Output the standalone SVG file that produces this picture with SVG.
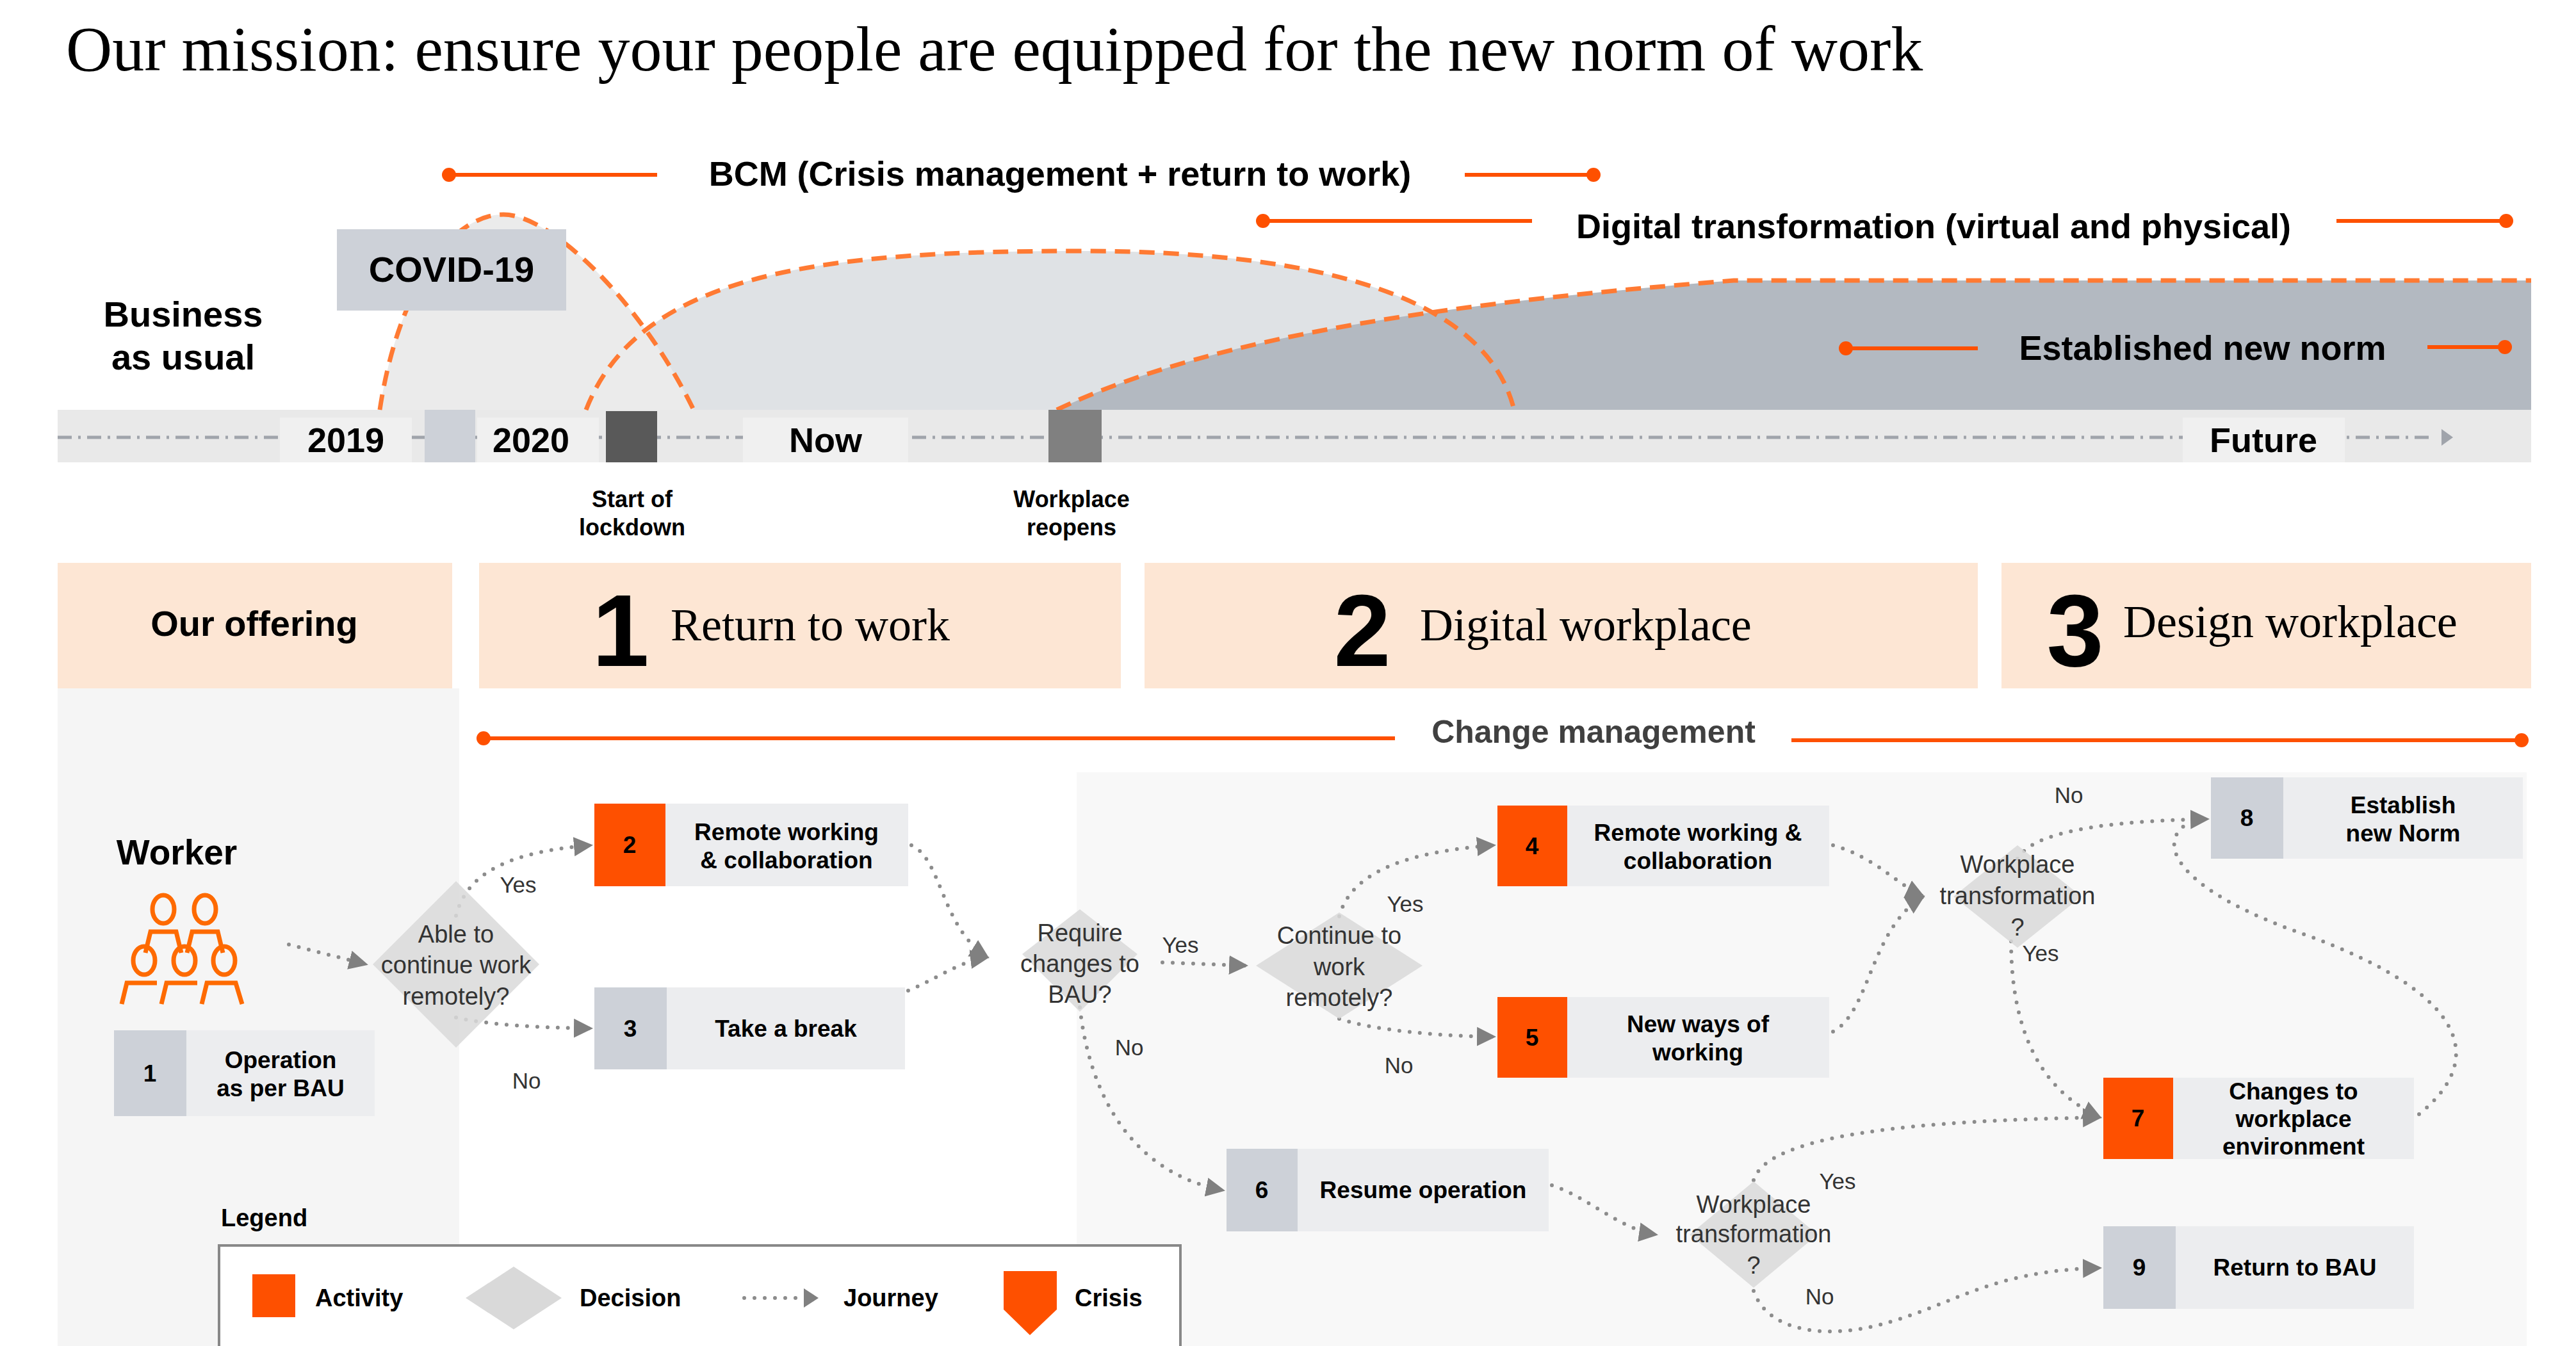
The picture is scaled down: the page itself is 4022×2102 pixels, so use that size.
<svg xmlns="http://www.w3.org/2000/svg" width="4022" height="2102" viewBox="0 0 4022 2102">
<defs>
<style>
.t{font-family:"Liberation Sans",Arial,sans-serif;fill:#000}
.b{font-weight:bold}
.s{font-family:"Liberation Serif","Times New Roman",serif;fill:#000}
.ol{stroke:#fe5000;stroke-width:6;fill:none}
.od{fill:#fe5000}
.dash{fill:none;stroke:#ff7a33;stroke-width:7;stroke-dasharray:24 14}
.nb{fill:#cdd1d8}
.na{fill:#fe5000}
.nt{fill:#ecedef}
.lab{font-family:"Liberation Sans",Arial,sans-serif;font-size:37px;font-weight:bold;fill:#000;text-anchor:middle}
.dt{font-family:"Liberation Sans",Arial,sans-serif;font-size:38px;fill:#333;text-anchor:middle}
.yn{font-family:"Liberation Sans",Arial,sans-serif;font-size:35px;fill:#333;text-anchor:middle}
.dia{fill:#d9d9d9;opacity:0.85}
.c{fill:none;stroke:#8c8c8c;stroke-width:6;stroke-dasharray:0 16;stroke-linecap:round}
</style>
<marker id="ah" viewBox="0 0 10 10" refX="9" refY="5" markerWidth="30" markerHeight="32" markerUnits="userSpaceOnUse" orient="auto">
<path d="M0,0L10,5L0,10z" fill="#808080"/>
</marker>
</defs>
<rect width="4022" height="2102" fill="#fff"/>
<text class="s" x="103" y="110" font-size="100">Our mission: ensure your people are equipped for the new norm of work</text>

<g id="bcm">
<line class="ol" x1="701" y1="273" x2="1026" y2="273"/><circle class="od" cx="701" cy="273" r="11"/>
<line class="ol" x1="2287" y1="273" x2="2488" y2="273"/><circle class="od" cx="2488" cy="273" r="11"/>
<text class="t b" x="1655" y="290" font-size="54" text-anchor="middle">BCM (Crisis management + return to work)</text>
</g>
<g id="digital">
<line class="ol" x1="1972" y1="345" x2="2392" y2="345"/><circle class="od" cx="1972" cy="345" r="11"/>
<line class="ol" x1="3648" y1="345" x2="3913" y2="345"/><circle class="od" cx="3913" cy="345" r="11"/>
<text class="t b" x="3019" y="372" font-size="54" text-anchor="middle">Digital transformation (virtual and physical)</text>
</g>

<g id="timeline">
<rect x="90" y="640" width="3862" height="82" fill="#e9e9e9"/>
<path d="M915,640 C1000,420 1300,392 1689,392 C2050,392 2320,460 2364,640 Z" fill="#dfe2e5"/>
<path d="M1650,640 C1900,520 2300,470 2707,438 L3952,438 L3952,640 Z" fill="#b3b9c1"/>
<path d="M593,640 C620,460 700,335 786,335 C860,335 1000,470 1083,640 Z" fill="#ebebeb"/>
<path class="dash" d="M915,640 C1000,420 1300,392 1689,392 C2050,392 2320,460 2364,640"/>
<path class="dash" d="M1650,640 C1900,520 2300,470 2707,438 L3952,438"/>
<path class="dash" d="M593,640 C620,460 700,335 786,335 C860,335 1000,470 1083,640"/>
<line x1="90" y1="683" x2="3800" y2="683" stroke="#a0a4ab" stroke-width="5" stroke-dasharray="22 10 4 10"/>
<path d="M3812,670 L3830,683 L3812,696 Z" fill="#a0a4ab"/>
<rect x="437" y="652" width="206" height="70" fill="#f0f0f0"/>
<rect x="663" y="640" width="79" height="82" fill="#cdd1d8"/>
<rect x="745" y="652" width="190" height="70" fill="#f0f0f0"/>
<rect x="946" y="642" width="80" height="80" fill="#595959"/>
<rect x="1160" y="652" width="258" height="70" fill="#f0f0f0"/>
<rect x="1637" y="640" width="83" height="82" fill="#808080"/>
<rect x="3408" y="652" width="253" height="70" fill="#f0f0f0"/>
<text class="t b" x="540" y="706" font-size="54" text-anchor="middle">2019</text>
<text class="t b" x="829" y="706" font-size="54" text-anchor="middle">2020</text>
<text class="t b" x="1289" y="706" font-size="54" text-anchor="middle">Now</text>
<text class="t b" x="3534" y="706" font-size="54" text-anchor="middle">Future</text>
<text class="t b" x="987" y="792" font-size="36" text-anchor="middle">Start of</text>
<text class="t b" x="987" y="836" font-size="36" text-anchor="middle">lockdown</text>
<text class="t b" x="1673" y="792" font-size="36" text-anchor="middle">Workplace</text>
<text class="t b" x="1673" y="836" font-size="36" text-anchor="middle">reopens</text>
<rect x="526" y="358" width="358" height="127" fill="#cdd1d8"/>
<text class="t b" x="705" y="440" font-size="56" text-anchor="middle">COVID-19</text>
<text class="t b" x="286" y="510" font-size="56" text-anchor="middle">Business</text>
<text class="t b" x="286" y="577" font-size="56" text-anchor="middle">as usual</text>
</g>
<g id="newnorm">
<line class="ol" x1="2882" y1="544" x2="3088" y2="544"/><circle class="od" cx="2882" cy="544" r="11"/>
<line class="ol" x1="3790" y1="542" x2="3911" y2="542"/><circle class="od" cx="3911" cy="542" r="11"/>
<text class="t b" x="3439" y="562" font-size="54" text-anchor="middle">Established new norm</text>
</g>

<g id="offering">
<rect x="90" y="879" width="616" height="196" fill="#fde6d4"/>
<text class="t b" x="397" y="993" font-size="56" text-anchor="middle">Our offering</text>
<rect x="748" y="879" width="1002" height="196" fill="#fde6d4"/>
<text class="t b" x="969" y="1040" font-size="160" text-anchor="middle">1</text>
<text class="s" x="1047" y="1000" font-size="72">Return to work</text>
<rect x="1787" y="879" width="1301" height="196" fill="#fde6d4"/>
<text class="t b" x="2127" y="1040" font-size="160" text-anchor="middle">2</text>
<text class="s" x="2217" y="1000" font-size="72">Digital workplace</text>
<rect x="3125" y="879" width="827" height="196" fill="#fde6d4"/>
<text class="t b" x="3240" y="1040" font-size="160" text-anchor="middle">3</text>
<text class="s" x="3315" y="995" font-size="72">Design workplace</text>
</g>

<rect x="90" y="1075" width="627" height="1027" fill="#f5f5f5"/>
<rect x="1681" y="1206" width="2264" height="896" fill="#f8f8f8"/>

<g id="change">
<line class="ol" x1="755" y1="1153" x2="2178" y2="1153"/><circle class="od" cx="755" cy="1153" r="11"/>
<line class="ol" x1="2797" y1="1156" x2="3937" y2="1156"/><circle class="od" cx="3937" cy="1156" r="11"/>
<text x="2488" y="1160" font-family="Liberation Sans,Arial,sans-serif" font-weight="bold" font-size="50" fill="#404040" text-anchor="middle">Change management</text>
</g>

<g id="worker">
<text class="t b" x="276" y="1350" font-size="55" text-anchor="middle">Worker</text>
<g fill="none" stroke="#fe6a00" stroke-width="7">
<ellipse cx="255" cy="1420" rx="17" ry="22"/><ellipse cx="320" cy="1420" rx="17" ry="22"/>
<path d="M227,1488 L235,1455 L275,1455 L283,1488 M292,1488 L300,1455 L340,1455 L348,1488"/>
<ellipse cx="225" cy="1500" rx="17" ry="22"/><ellipse cx="288" cy="1500" rx="17" ry="22"/><ellipse cx="350" cy="1500" rx="17" ry="22"/>
<path d="M190,1568 L198,1535 L245,1535 M252,1568 L260,1535 L308,1535 M315,1568 L323,1535 L368,1535 L378,1568"/>
</g>
</g>

<g id="connectors">
<path class="c" marker-end="url(#ah)" d="M451,1475 L572,1506"/>
<path class="c" marker-end="url(#ah)" d="M712,1430 C730,1360 800,1330 923,1320"/>
<path class="c" marker-end="url(#ah)" d="M712,1589 C760,1600 840,1605 923,1606"/>
<path class="c" marker-end="url(#ah)" d="M1423,1320 C1470,1340 1470,1450 1542,1495"/>
<path class="c" marker-end="url(#ah)" d="M1418,1547 C1460,1530 1500,1500 1542,1495"/>
<path class="c" marker-end="url(#ah)" d="M1815,1503 L1946,1508"/>
<path class="c" marker-end="url(#ah)" d="M1686,1573 C1700,1700 1760,1830 1910,1859"/>
<path class="c" marker-end="url(#ah)" d="M2091,1431 C2110,1360 2200,1330 2333,1320"/>
<path class="c" marker-end="url(#ah)" d="M2091,1591 C2150,1610 2250,1618 2333,1619"/>
<path class="c" marker-end="url(#ah)" d="M2862,1320 C2930,1340 2960,1380 3003,1400"/>
<path class="c" marker-end="url(#ah)" d="M2862,1611 C2920,1580 2920,1450 3003,1400"/>
<path class="c" marker-end="url(#ah)" d="M3150,1341 C3180,1290 3330,1282 3447,1279"/>
<path class="c" marker-end="url(#ah)" d="M3140,1470 C3140,1600 3180,1700 3279,1745"/>
<path class="c" d="M3777,1740 C3900,1640 3820,1540 3600,1460 C3400,1390 3370,1320 3410,1290"/>
<path class="c" marker-end="url(#ah)" d="M2423,1851 C2480,1870 2530,1920 2586,1928"/>
<path class="c" marker-end="url(#ah)" d="M2738,1843 C2760,1770 3000,1750 3279,1745"/>
<path class="c" marker-end="url(#ah)" d="M2738,2016 C2760,2080 2850,2090 2930,2070 C3050,2040 3100,1985 3279,1980"/>
</g>

<g id="d1"><path class="dia" d="M712,1376 L842,1506 L712,1636 L582,1506 Z"/>
<text class="dt" x="712" y="1472">Able to</text><text class="dt" x="712" y="1520">continue work</text><text class="dt" x="712" y="1569">remotely?</text></g>
<g id="d2"><path class="dia" d="M1686,1420 L1776,1490 L1686,1580 L1596,1490 Z"/>
<text class="dt" x="1686" y="1470">Require</text><text class="dt" x="1686" y="1518">changes to</text><text class="dt" x="1686" y="1566">BAU?</text></g>
<g id="d3"><path class="dia" d="M2091,1425 L2221,1508 L2091,1591 L1961,1508 Z"/>
<text class="dt" x="2091" y="1474">Continue to</text><text class="dt" x="2091" y="1523">work</text><text class="dt" x="2091" y="1571">remotely?</text></g>
<g id="d4"><path class="dia" d="M3150,1320 L3250,1400 L3150,1480 L3050,1400 Z"/>
<text class="dt" x="3150" y="1363">Workplace</text><text class="dt" x="3150" y="1412">transformation</text><text class="dt" x="3150" y="1461">?</text></g>
<g id="d5"><path class="dia" d="M2738,1845 L2838,1928 L2738,2011 L2638,1928 Z"/>
<text class="dt" x="2738" y="1894">Workplace</text><text class="dt" x="2738" y="1940">transformation</text><text class="dt" x="2738" y="1989">?</text></g>

<g id="labels">
<text class="yn" x="809" y="1394">Yes</text>
<text class="yn" x="822" y="1700">No</text>
<text class="yn" x="1843" y="1488">Yes</text>
<text class="yn" x="1763" y="1648">No</text>
<text class="yn" x="2194" y="1424">Yes</text>
<text class="yn" x="2184" y="1676">No</text>
<text class="yn" x="3230" y="1254">No</text>
<text class="yn" x="3186" y="1501">Yes</text>
<text class="yn" x="2869" y="1857">Yes</text>
<text class="yn" x="2841" y="2037">No</text>
</g>

<g id="n1"><rect class="nt" x="178" y="1609" width="407" height="134"/><rect class="nb" x="178" y="1609" width="113" height="134"/>
<text class="lab" x="234" y="1689">1</text><text class="lab" x="438" y="1668">Operation</text><text class="lab" x="438" y="1712">as per BAU</text></g>
<g id="n2"><rect class="nt" x="928" y="1255" width="490" height="129"/><rect class="na" x="928" y="1255" width="111" height="129"/>
<text class="lab" x="983" y="1332">2</text><text class="lab" x="1228" y="1312">Remote working</text><text class="lab" x="1228" y="1356">&amp; collaboration</text></g>
<g id="n3"><rect class="nt" x="928" y="1542" width="485" height="128"/><rect class="nb" x="928" y="1542" width="113" height="128"/>
<text class="lab" x="984" y="1619">3</text><text class="lab" x="1227" y="1619">Take a break</text></g>
<g id="n4"><rect class="nt" x="2338" y="1258" width="518" height="126"/><rect class="na" x="2338" y="1258" width="109" height="126"/>
<text class="lab" x="2392" y="1334">4</text><text class="lab" x="2651" y="1313">Remote working &amp;</text><text class="lab" x="2651" y="1357">collaboration</text></g>
<g id="n5"><rect class="nt" x="2338" y="1557" width="518" height="126"/><rect class="na" x="2338" y="1557" width="109" height="126"/>
<text class="lab" x="2392" y="1633">5</text><text class="lab" x="2651" y="1612">New ways of</text><text class="lab" x="2651" y="1656">working</text></g>
<g id="n6"><rect class="nt" x="1915" y="1794" width="503" height="129"/><rect class="nb" x="1915" y="1794" width="111" height="129"/>
<text class="lab" x="1970" y="1871">6</text><text class="lab" x="2222" y="1871">Resume operation</text></g>
<g id="n7"><rect class="nt" x="3284" y="1683" width="485" height="127"/><rect class="na" x="3284" y="1683" width="109" height="127"/>
<text class="lab" x="3338" y="1759">7</text><text class="lab" x="3581" y="1717">Changes to</text><text class="lab" x="3581" y="1760">workplace</text><text class="lab" x="3581" y="1803">environment</text></g>
<g id="n8"><rect class="nt" x="3452" y="1214" width="487" height="127"/><rect class="nb" x="3452" y="1214" width="113" height="127"/>
<text class="lab" x="3508" y="1290">8</text><text class="lab" x="3752" y="1270">Establish</text><text class="lab" x="3752" y="1314">new Norm</text></g>
<g id="n9"><rect class="nt" x="3284" y="1915" width="485" height="129"/><rect class="nb" x="3284" y="1915" width="113" height="129"/>
<text class="lab" x="3340" y="1992">9</text><text class="lab" x="3583" y="1992">Return to BAU</text></g>

<g id="legend">
<text class="t b" x="345" y="1915" font-size="38">Legend</text>
<rect x="342" y="1945" width="1501" height="160" fill="#fff" stroke="#888" stroke-width="4"/>
<rect x="394" y="1990" width="67" height="67" fill="#fe5000"/>
<text class="t b" x="492" y="2040" font-size="38">Activity</text>
<path d="M802,1978 L877,2027 L802,2076 L727,2027 Z" fill="#d9d9d9"/>
<text class="t b" x="905" y="2040" font-size="38">Decision</text>
<path class="c" d="M1162,2027 L1250,2027" stroke-width="6"/>
<path d="M1255,2012 L1278,2027 L1255,2042 Z" fill="#808080"/>
<text class="t b" x="1317" y="2040" font-size="38">Journey</text>
<path d="M1567,1985 L1650,1985 L1650,2045 L1608,2085 L1567,2045 Z" fill="#fe5000"/>
<text class="t b" x="1678" y="2040" font-size="38">Crisis</text>
</g>
</svg>
